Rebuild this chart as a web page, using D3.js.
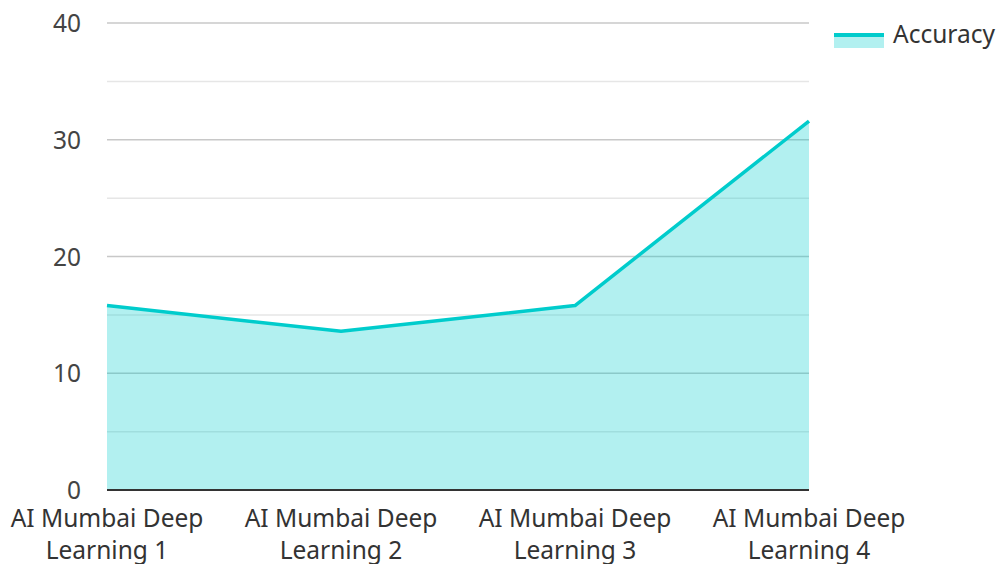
<!DOCTYPE html>
<html>
<head>
<meta charset="utf-8">
<script src="https://cdn.jsdelivr.net/npm/d3@7"></script>
<style>
  body { margin: 0; background: #fff; }
  text { font-family: 'Noto Sans', sans-serif; }
</style>
</head>
<body>
<div id="viz"></div>
<script>
const categories = ['AI Mumbai Deep Learning 1', 'AI Mumbai Deep Learning 2', 'AI Mumbai Deep Learning 3', 'AI Mumbai Deep Learning 4'];
const accuracy = [15.8, 13.6, 15.8, 31.6];
const yTicks = [0, 10, 20, 30, 40];
const yMinorTicks = [5, 15, 25, 35];
const seriesName = 'Accuracy';

const w = 999, h = 564;
const mLeft = 107, mRight = 809, mTop = 23, mBottom = 490;
const lineColor = '#00cccc';
const fontSize = '24.5px';

const svg = d3.select('#viz').append('svg')
  .attr('width', w)
  .attr('height', h);

const xScale = d3.scalePoint().domain(categories).range([mLeft, mRight]);
const yScale = d3.scaleLinear().domain([0, 40]).range([mBottom, mTop]);

// grid
svg.append('g').selectAll('line.minor')
  .data(yMinorTicks).enter().append('line')
  .attr('x1', mLeft).attr('x2', mRight)
  .attr('y1', d => yScale(d)).attr('y2', d => yScale(d))
  .attr('stroke', '#e6e6e6').attr('stroke-width', 1.5);

svg.append('g').selectAll('line.major')
  .data(yTicks.filter(d => d > 0)).enter().append('line')
  .attr('x1', mLeft).attr('x2', mRight)
  .attr('y1', d => yScale(d)).attr('y2', d => yScale(d))
  .attr('stroke', '#c8c8c8').attr('stroke-width', 1.5);

// area + line
const area = d3.area()
  .x((d, i) => xScale(categories[i]))
  .y0(yScale(0))
  .y1(d => yScale(d));

const line = d3.line()
  .x((d, i) => xScale(categories[i]))
  .y(d => yScale(d));

svg.append('path')
  .datum(accuracy)
  .attr('d', area)
  .attr('fill', lineColor)
  .attr('fill-opacity', 0.3);

svg.append('path')
  .datum(accuracy)
  .attr('d', line)
  .attr('fill', 'none')
  .attr('stroke', lineColor)
  .attr('stroke-width', 3.5)
  .attr('stroke-linejoin', 'round');

// x baseline
svg.append('line')
  .attr('x1', mLeft).attr('x2', mRight)
  .attr('y1', yScale(0)).attr('y2', yScale(0))
  .attr('stroke', '#333').attr('stroke-width', 2);

// y labels
svg.append('g').selectAll('text')
  .data(yTicks).enter().append('text')
  .attr('x', 81)
  .attr('y', d => yScale(d) + 9)
  .attr('text-anchor', 'end')
  .style('font-size', fontSize)
  .attr('fill', '#444')
  .text(d => d);

// x labels (two lines)
const xl = svg.append('g').selectAll('text')
  .data(categories).enter().append('text')
  .attr('text-anchor', 'middle')
  .style('font-size', fontSize)
  .attr('fill', '#333');

xl.append('tspan')
  .attr('x', d => xScale(d))
  .attr('y', 527)
  .text(d => d.split(' ').slice(0, 3).join(' '));
xl.append('tspan')
  .attr('x', d => xScale(d))
  .attr('y', 559)
  .text(d => d.split(' ').slice(3).join(' '));

// legend
const legend = svg.append('g').attr('transform', 'translate(834,33)');
legend.append('rect')
  .attr('width', 50).attr('height', 15)
  .attr('fill', lineColor).attr('fill-opacity', 0.3);
legend.append('line')
  .attr('x1', 0).attr('x2', 50).attr('y1', 2).attr('y2', 2)
  .attr('stroke', lineColor).attr('stroke-width', 4);
legend.append('text')
  .attr('x', 59).attr('y', 10)
  .style('font-size', fontSize)
  .attr('fill', '#333')
  .text(seriesName);
</script>
</body>
</html>
